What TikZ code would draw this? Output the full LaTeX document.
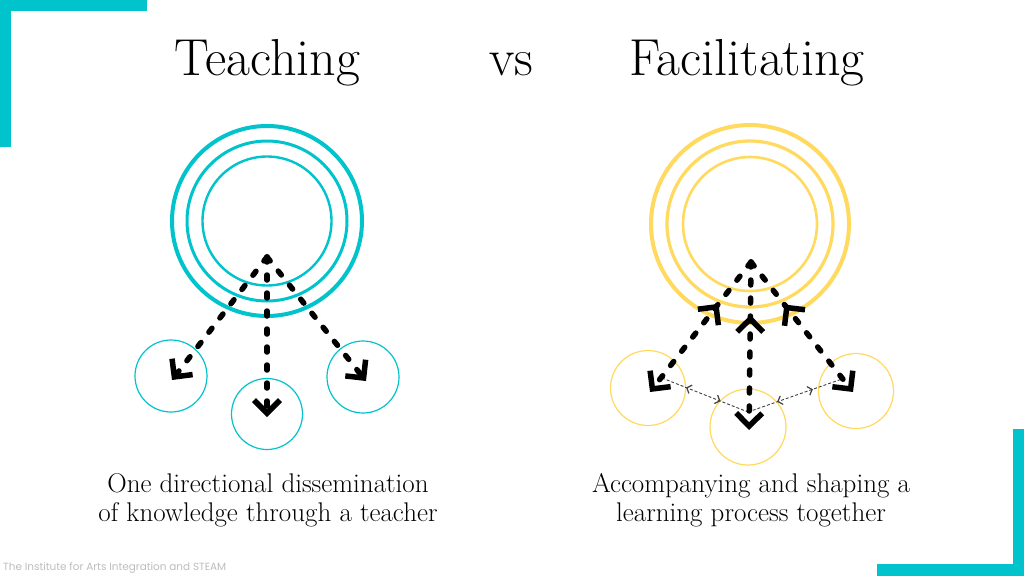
\documentclass[tikz,border=0pt]{standalone}
\usepackage{fontspec}
\newfontfamily\footfont{Poppins}
\usetikzlibrary{arrows.meta,decorations.markings}
\definecolor{tcyan}{HTML}{00C3CC}
\definecolor{tyellow}{HTML}{FFDA5E}
\definecolor{footgray}{HTML}{BDBDBD}
\tikzset{
  ring/.style={circle, draw=#1, inner sep=0pt, outer sep=0pt},
  bigtip/.tip={Straight Barb[length=13pt,width=26pt,line width=5.5pt]},
  smalltip/.tip={Straight Barb[length=4pt,width=9pt,line width=1.2pt]},
  flow/.style={line width=5.5pt, dash pattern=on 5pt off 13pt, line cap=round, -bigtip},
  thinflow/.style={line width=0.9pt, draw=black!75, dash pattern=on 3pt off 2pt},
  title/.style={anchor=base, inner sep=0pt, font=\fontsize{52}{52}\selectfont},
  caption/.style={anchor=base, inner sep=0pt, font=\fontsize{27}{30}\selectfont},
  backmark/.style={postaction={decorate, decoration={markings,
      mark=at position #1 with {\arrowreversed[solid]{bigtip}}}}},
  twomarks/.style 2 args={postaction={decorate, decoration={markings,
      mark=at position #1 with {\arrowreversed[solid]{smalltip}},
      mark=at position #2 with {\arrow[solid]{smalltip}}}}}
}
\begin{document}
\begin{tikzpicture}[x=1pt,y=-1pt]
\useasboundingbox (0,0) rectangle (1024,576);
\fill[white] (0,0) rectangle (1024,576);
% corner brackets
\fill[tcyan] (0,0) rectangle (147,11);
\fill[tcyan] (0,0) rectangle (11,147);
\fill[tcyan] (1013,429) rectangle (1024,576);
\fill[tcyan] (877,564) rectangle (1024,576);
% titles
\node[title] (teach) at (267.5,75) {Teaching};
\node[title] (vs) at (511.5,75) {vs};
\node[title] (facil) at (747,75) {Facilitating};
% left rings
\node[ring=tcyan, line width=4pt, minimum size=190pt] (l1) at (267,221) {};
\node[ring=tcyan, line width=3pt, minimum size=160pt] (l2) at (267,221) {};
\node[ring=tcyan, line width=2.4pt, minimum size=129pt] (l3) at (267,221) {};
\node[ring=tcyan, line width=1.2pt, minimum size=72pt] (la) at (171,376) {};
\node[ring=tcyan, line width=1.2pt, minimum size=71pt] (lb) at (267,414) {};
\node[ring=tcyan, line width=1.2pt, minimum size=72pt] (lc) at (363,377) {};
% right rings
\node[ring=tyellow, line width=4pt, minimum size=198pt] (r1) at (750,224) {};
\node[ring=tyellow, line width=3.2pt, minimum size=166pt] (r2) at (750,224) {};
\node[ring=tyellow, line width=2.6pt, minimum size=134pt] (r3) at (750,224) {};
\node[ring=tyellow, line width=1.2pt, minimum size=75pt] (ra) at (648,388) {};
\node[ring=tyellow, line width=1.2pt, minimum size=76pt] (rb) at (748,427) {};
\node[ring=tyellow, line width=1.2pt, minimum size=75pt] (rc) at (856,391) {};
% left connectors
\coordinate (apexL) at (267,257);
\coordinate (endLa) at (172,380);
\coordinate (endLb) at (267,417);
\coordinate (endLc) at (366,381);
\draw[flow] (apexL) -- (endLa);
\draw[flow] (apexL) -- (endLb);
\draw[flow] (apexL) -- (endLc);
% right connectors
\coordinate (apexR) at (751,262);
\coordinate (endRa) at (650,392);
\coordinate (endRb) at (749,430);
\coordinate (endRc) at (853,392);
\coordinate (dotRa) at (662,378);
\coordinate (dotRb) at (748,412);
\coordinate (dotRc) at (842,379);
\draw[thinflow, twomarks={0.28}{0.68}] (dotRa) -- (dotRb);
\draw[thinflow, twomarks={0.31}{0.69}] (dotRb) -- (dotRc);
\draw[flow, backmark=53pt] (apexR) -- (endRa);
\draw[flow, backmark=53pt] (apexR) -- (endRb);
\draw[flow, backmark=54pt] (apexR) -- (endRc);
% captions
\node[caption] (cap1a) at (268,492) {One directional dissemination};
\node[caption] (cap1b) at (268,521.5) {of knowledge through a teacher};
\node[caption] (cap2a) at (751,492) {Accompanying and shaping a};
\node[caption] (cap2b) at (751,521.5) {learning process together};
% footer
\node[anchor=base west, inner sep=0pt, text=footgray] (foot) at (3,570)
  {\resizebox{223pt}{!}{\footfont The Institute for Arts Integration and STEAM}};
\end{tikzpicture}
\end{document}
